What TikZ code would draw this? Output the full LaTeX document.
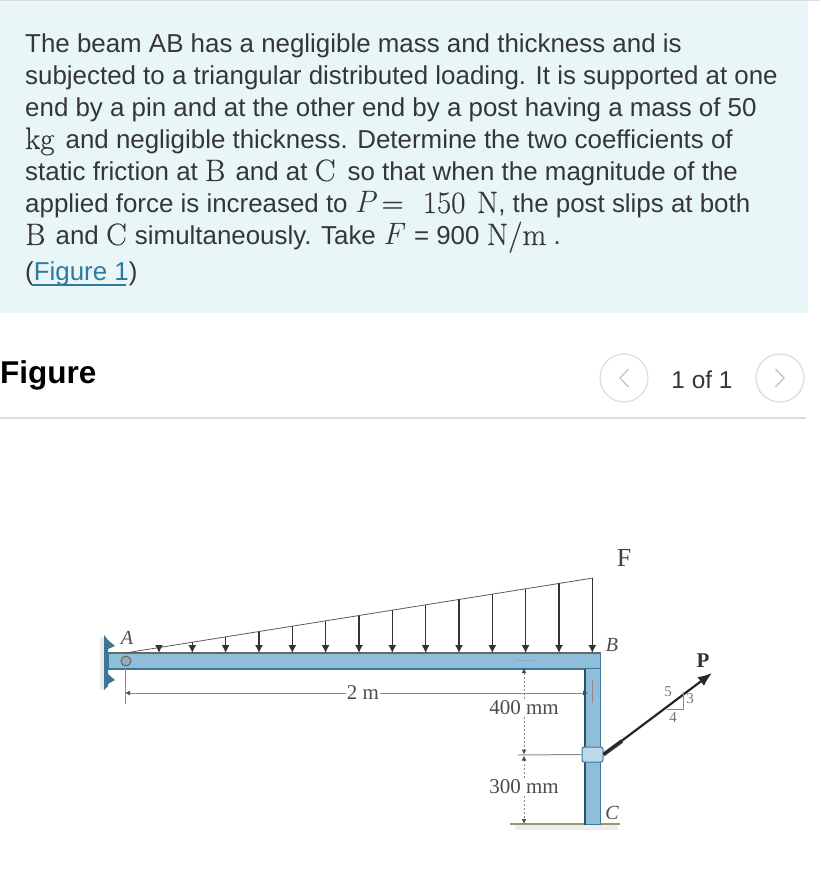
\documentclass[tikz,border=0pt]{standalone}
\usepackage{fontspec}
\newfontfamily\helv{Liberation Sans}
\newfontfamily\diagfont{Liberation Serif}
\newfontfamily\lmtext[FakeBold=0.35]{Latin Modern Roman}
\newcommand{\rmtxt}[1]{{\lmtext\fontsize{31}{32}\selectfont #1}}
\newcommand{\rmvar}[1]{{\rmfamily\itshape\fontsize{31}{32}\selectfont #1}}
\usetikzlibrary{arrows.meta,shapes.geometric}
\definecolor{panel}{HTML}{E8F6F8}
\definecolor{prose}{HTML}{363636}
\definecolor{link}{HTML}{2F7A9E}
\definecolor{rule}{HTML}{DCDCDC}
\definecolor{chevron}{HTML}{C6C6C6}
\definecolor{steel}{HTML}{8FBEDA}
\definecolor{steeldark}{HTML}{3F7596}
\definecolor{dimgrey}{HTML}{8A8A8A}
\begin{document}
\begin{tikzpicture}[x=1pt, y=-1pt, -latex,
    text line/.style={anchor=base west, inner sep=0pt, text=prose, font=\helv\fontsize{25.9}{32}\selectfont},
    member/.style={draw=steeldark, fill=steel, line width=1pt, inner sep=0pt},
    load arrow/.style={draw=black!80, line width=1.3pt, -{Latex[length=8pt,width=8pt]}},
    dim line/.style={draw=dimgrey, line width=1pt},
    dim tips/.style={{Latex[length=5pt,width=5pt,black!70]}-{Latex[length=5pt,width=5pt,black!70]}},
    dim plain/.style={draw=dimgrey, line width=1pt, -},
    dim label/.style={text=black!70, inner sep=1pt, fill=white, font=\diagfont\fontsize{21}{24}\selectfont},
    point label/.style={text=black!70, inner sep=0pt, font=\diagfont\itshape\fontsize{20}{22}\selectfont},
    slope label/.style={text=black!55, inner sep=0pt, font=\diagfont\fontsize{15}{16}\selectfont},
    nav button/.style={circle, draw=rule, line width=1.2pt, minimum size=48pt, inner sep=0pt}]
    \useasboundingbox (0,0) rectangle (820,890);
    % question panel
    \fill[panel] (0,0) rectangle (808,313);
    \draw[rule, line width=1pt, -] (0,0.5) -- (820,0.5);
    \node[text line] (line1) at (25,53) {The beam AB has a negligible mass and thickness and is};
    \node[text line] (line2) at (25,85) {subjected to a triangular distributed loading. It is supported at one};
    \node[text line] (line3) at (25,117) {end by a pin and at the other end by a post having a mass of 50};
    \node[text line] (line4) at (25,149) {\rmtxt{kg}\hspace{4pt} and negligible thickness. Determine the two coefficients of};
    \node[text line] (line5) at (25,181) {static friction at \rmtxt{B}\hspace{3pt} and at \rmtxt{C}\hspace{5pt} so that when the magnitude of the};
    \node[text line] (line6) at (25,213) {applied force is increased to \rmvar{P}\hspace{6pt}\rmtxt{=\hspace{19pt}150\hspace{2pt} N}, the post slips at both};
    \node[text line] (line7) at (25,245) {\rmtxt{B}\hspace{3pt} and \rmtxt{C}\hspace{1pt} simultaneously. Take \rmvar{F}\hspace{4pt} = 900 \rmtxt{N/m} .};
    \node[text line] (line8) at (25,280) {(\textcolor{link}{Figure 1})};
    \draw[link, line width=1.2pt, -] (32,285) -- (126,285);
    % figure header
    \node[anchor=base west, inner sep=0pt, font=\helv\bfseries\fontsize{31.5}{36}\selectfont] (figtitle) at (0,383) {Figure};
    \node[nav button] (prev) at (624,378) {};
    \node[nav button] (next) at (780,378) {};
    \node[text line, anchor=base, font=\helv\fontsize{24.4}{32}\selectfont] (pager) at (702,388) {1 of 1};
    \draw[chevron, line width=1.4pt, -] (628.5,369) -- (620,378) -- (628.5,387);
    \draw[chevron, line width=1.4pt, -] (775.5,369) -- (784,378) -- (775.5,387);
    \draw[rule, line width=1.5pt, -] (0,418) -- (806,418);
    % wall bracket at A
    \fill[black!8] (100,637) rectangle (104,690);
    \fill[steeldark] (104,635) -- (108,640) -- (108,686) -- (104,690) -- cycle;
    \fill[steeldark] (108,640) -- (115,646) -- (108,649) -- cycle;
    \fill[steeldark] (108,674) -- (115,680) -- (108,684) -- cycle;
    % ground
    \fill[black!7] (515,825) rectangle (618,830);
    \draw[black!50!olive!60, line width=1.6pt, -] (510,824) -- (620,824);
    % beam and post
    \node[member, minimum height=171pt, minimum width=15pt] (post) at (592.5,738.5) {};
    \node[member, minimum width=492pt, minimum height=15pt] (beam) at (354,660.5) {};
    \draw[steeldark, line width=2pt, -] (beam.south west) -- (post.north west |- beam.south);
    \draw[black!60, line width=1pt, -] (beam.north west) -- (beam.north east);
    \draw[steeldark!70!black, line width=2pt, -] (post.north west |- beam.south) -- (post.south west);
    \node[member, fill=steel!60, rounded corners=2pt, minimum width=21pt, minimum height=15pt] (collar) at (592.5,754.5) {};
    \node[circle, draw=black!60, line width=1pt, fill=steel!70!black!70, minimum size=10pt, inner sep=0pt] (pinA) at (126,661) {};
    % distributed load
    \coordinate (loadstart) at (125,653);
    \coordinate (loadend) at (593,578);
    \draw[black!65, line width=0.8pt, -] (loadstart) -- (loadend);
    \foreach \i/\xpos in {1/159,2/192.3,3/225.6,4/259,5/292.3,6/325.6,7/359,8/392.3,9/425.6,10/459,11/492.3,12/525.6,13/559,14/592.3}{
        \coordinate (top\i) at (\xpos,{653-(\xpos-125)*0.16026});
        \coordinate (foot\i) at (\xpos,653);
        \draw[load arrow] (top\i) -- (foot\i);
    }
    % dimensions
    \coordinate (extAtop) at (125,668);
    \coordinate (extAbot) at (125,704);
    \coordinate (dimA) at (125,693);
    \coordinate (dimB) at (588,693);
    \coordinate (tickTop) at (592,680);
    \coordinate (tickBot) at (592,703);
    \coordinate (dimTop) at (524,668);
    \coordinate (dimMidA) at (524,754.5);
    \coordinate (dimMidB) at (524,755.5);
    \coordinate (dimBot) at (524,824);
    \coordinate (extCollar) at (518,755);
    \coordinate (tickL) at (515,660);
    \coordinate (tickR) at (535,660);
    \draw[dim plain] (extAtop) -- (extAbot);
    \draw[dim plain] (tickTop) -- (tickBot);
    \draw[draw=steeldark!60, line width=1pt, -] (tickL) -- (tickR);
    \draw[dim plain] (extCollar) -- (collar.west);
    \draw[dim line, dim tips] (dimA) -- (dimB);
    \draw[dim line, dim tips, dash pattern=on 2pt off 2pt] (dimTop) -- (dimMidA);
    \draw[dim line, dim tips, dash pattern=on 2pt off 2pt] (dimMidB) -- (dimBot);
    \node[dim label] (span) at (363,693) {2 m};
    \node[dim label] (upper) at (524,708) {400 mm};
    \node[dim label] (lower) at (524,787) {300 mm};
    % force P with slope triangle
    \coordinate (ptip) at (712,673);
    \coordinate (handle) at (622,741);
    \draw[black!70, line width=4pt, -] (collar.east) -- (handle);
    \draw[black!85, line width=2.2pt, -{Latex[length=14pt,width=11pt]}] (collar.east) -- (ptip);
    \coordinate (slopeA) at (667,709);
    \coordinate (slopeB) at (683,709);
    \coordinate (slopeC) at (683,692);
    \draw[dim plain] (slopeA) -- (slopeB) -- (slopeC);
    \node[slope label] (five) at (668,692) {5};
    \node[slope label] (three) at (690,699) {3};
    \node[slope label] (four) at (673,718) {4};
    \node[text=black!80, inner sep=0pt, font=\diagfont\bfseries\fontsize{21}{24}\selectfont] (labelP) at (703,661) {P};
    % point labels
    \node[point label] (labelA) at (127,638) {A};
    \node[point label] (labelB) at (612,645) {B};
    \node[point label] (labelC) at (612,813) {C};
    \node[text=black!75, inner sep=0pt, font=\diagfont\fontsize{26}{28}\selectfont] (labelF) at (624,558) {F};
\end{tikzpicture}
\end{document}
